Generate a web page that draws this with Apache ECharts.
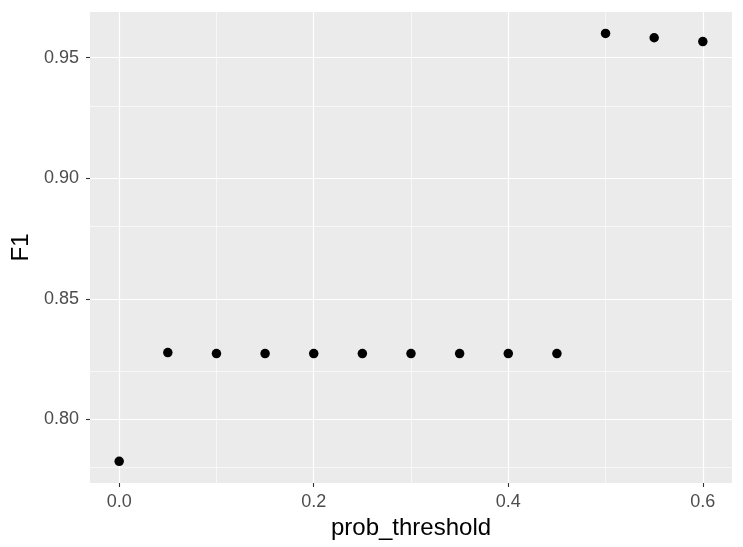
<!DOCTYPE html>
<html>
<head>
<meta charset="utf-8">
<script src="https://cdn.jsdelivr.net/npm/echarts@6/dist/echarts.min.js"></script>
<style>html,body{margin:0;padding:0;background:#fff;}#c{width:743px;height:547px;}</style>
</head>
<body>
<div id="c"></div>
<script>
var probThreshold = [0.0, 0.05, 0.1, 0.15, 0.2, 0.25, 0.3, 0.35, 0.4, 0.45, 0.5, 0.55, 0.6];
var f1 = [0.7826, 0.8277, 0.8273, 0.8273, 0.8273, 0.8273, 0.8273, 0.8273, 0.8273, 0.8273, 0.9600, 0.9582, 0.9566];
var xTicks = [0.0, 0.2, 0.4, 0.6];
var yTicks = [0.80, 0.85, 0.90, 0.95];
var xMinor = [0.1, 0.3, 0.5];
var yMinor = [0.775, 0.825, 0.875, 0.925];
var xRange = [-0.03, 0.63];
var yRange = [0.77363, 0.96888];

var font = 'Liberation Sans, Arial, sans-serif';
var chart = echarts.init(document.getElementById('c'), null, {renderer: 'canvas'});
var minorLines = xMinor.map(function (v) { return {xAxis: v}; })
  .concat(yMinor.map(function (v) { return {yAxis: v}; }));

chart.setOption({
  animation: false,
  backgroundColor: '#ffffff',
  grid: {left: 90, right: 11, top: 12, bottom: 64, show: true, backgroundColor: '#EBEBEB', borderWidth: 0},
  xAxis: {
    type: 'value', min: xRange[0], max: xRange[1],
    name: 'prob_threshold', nameLocation: 'middle', nameGap: 33,
    nameTextStyle: {color: '#000', fontSize: 24, fontFamily: font},
    axisLine: {show: false, onZero: false},
    axisTick: {show: true, length: 4, customValues: xTicks, lineStyle: {color: '#333', width: 1.1}},
    axisLabel: {customValues: xTicks, color: '#4D4D4D', fontSize: 18, fontFamily: font, margin: 10,
      formatter: function (v) { return v.toFixed(1); }},
    splitLine: {show: true, lineStyle: {color: '#fff', width: 1.2}}
  },
  yAxis: {
    type: 'value', min: yRange[0], max: yRange[1],
    name: 'F1', nameLocation: 'middle', nameGap: 57, nameRotate: 90,
    nameTextStyle: {color: '#000', fontSize: 24, fontFamily: font},
    axisLine: {show: false, onZero: false},
    axisTick: {show: true, length: 4, customValues: yTicks, lineStyle: {color: '#333', width: 1.1}},
    axisLabel: {customValues: yTicks, color: '#4D4D4D', fontSize: 18, fontFamily: font, margin: 11,
      formatter: function (v) { return v.toFixed(2); }},
    splitLine: {show: true, lineStyle: {color: '#fff', width: 1.2}}
  },
  series: [
    {
      type: 'line', data: [], z: 1, silent: true,
      markLine: {silent: true, symbol: 'none', label: {show: false}, animation: false,
        lineStyle: {color: '#fff', width: 0.6, type: 'solid', opacity: 1}, data: minorLines}
    },
    {
      type: 'scatter', z: 5, symbol: 'circle', symbolSize: 9.5,
      itemStyle: {color: '#000', opacity: 1},
      data: probThreshold.map(function (x, i) { return [x, f1[i]]; })
    }
  ]
});
</script>
</body>
</html>
